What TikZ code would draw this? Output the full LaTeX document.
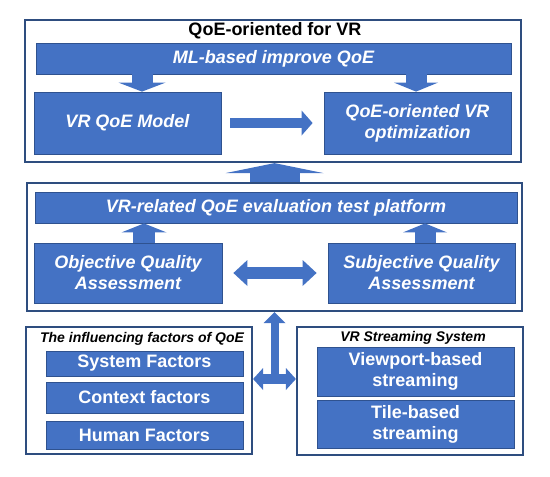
\documentclass[tikz,border=0pt]{standalone}
\usepackage{fontspec}
\setmainfont{Liberation Sans}
\usetikzlibrary{arrows.meta}
\definecolor{boxblue}{HTML}{4472C4}
\definecolor{edgeblue}{HTML}{2F528F}
\definecolor{frameblue}{HTML}{2E4D7F}
\tikzset{
  frame/.style={draw=frameblue,line width=2.2pt,fill=white,inner sep=0pt},
  title/.style={font=\bfseries\fontsize{18}{21}\selectfont},
  subtitle/.style={font=\bfseries\itshape\fontsize{14}{17}\selectfont},
  bluebox/.style={draw=edgeblue,line width=0.8pt,fill=boxblue,text=white,inner sep=0pt,
    align=center,font=\bfseries\itshape\fontsize{18}{21}\selectfont},
  factorbox/.style={bluebox,minimum width=197pt,font=\bfseries\fontsize{18}{21}\selectfont},
  blockarrow/.style n args={3}{draw=boxblue,line width=#1,-{Triangle[width=#2,length=#3,line width=0pt]}},
  dblarrow/.style n args={3}{draw=boxblue,line width=#1,
    {Triangle[width=#2,length=#3,line width=0pt]}-{Triangle[width=#2,length=#3,line width=0pt]}}
}
\begin{document}
\begin{tikzpicture}[x=1pt,y=-1pt]
\useasboundingbox (0,0) rectangle (550,477);
% FRAMES
\node[frame,minimum width=496pt,minimum height=142pt] (qoe) at (273,91) {};
\node[frame,minimum width=495pt,minimum height=128pt] (eval) at (274.5,247) {};
\node[frame,minimum width=226pt,minimum height=127pt] (factors) at (139,390.5) {};
\node[frame,minimum width=226pt,minimum height=128pt] (stream) at (410,391) {};
% TITLES
\node[title] (qoetitle) at (275,31) {QoE-oriented for VR};
\node[subtitle] (facttitle) at (142,339) {The influencing factors of QoE};
\node[subtitle] (streamtitle) at (413,338) {VR Streaming System};
% BOXES
\node[bluebox,minimum width=475pt,minimum height=31pt] (ml) at (273.5,58.5) {ML-based improve QoE};
\node[bluebox,minimum width=187pt,minimum height=62pt] (model) at (127.5,123) {VR QoE Model};
\node[bluebox,minimum width=187pt,minimum height=62pt] (opt) at (417.5,123) {QoE-oriented VR\\optimization};

\node[bluebox,minimum width=482pt,minimum height=31pt] (platform) at (276,207.5) {VR-related QoE evaluation test platform};
\node[bluebox,minimum width=188pt,minimum height=60pt] (obj) at (128,273) {Objective Quality\\Assessment};
\node[bluebox,minimum width=187pt,minimum height=60pt] (subj) at (421.5,273) {Subjective Quality\\Assessment};

\node[factorbox,minimum height=25pt] (system) at (144.5,363.5) {System Factors};
\node[factorbox,minimum height=31pt] (context) at (144.5,397.5) {Context factors};
\node[factorbox,minimum height=28pt] (human) at (144.5,435) {Human Factors};

\node[factorbox,minimum height=49pt] (viewport) at (415.5,371.5) {Viewport-based\\streaming};
\node[factorbox,minimum height=48pt] (tile) at (415.5,424) {Tile-based\\streaming};
% ARROWS
\coordinate (mlL) at (142,0);
\coordinate (mlR) at (416,0);
\coordinate (objU) at (144,0);
\coordinate (subjU) at (425,0);
\coordinate (tee) at (274.5,379);

\draw[blockarrow={21pt}{47pt}{9pt}] (ml.south -| mlL) -- (model.north -| mlL);
\draw[blockarrow={21pt}{44pt}{9pt}] (ml.south -| mlR) -- (opt.north -| mlR);
\draw[blockarrow={10pt}{25pt}{11pt}] ([xshift=9pt]model.east) -- ([xshift=-11pt]opt.west);
\draw[blockarrow={50pt}{98pt}{10pt}] (eval.north) -- (eval.north |- qoe.south);

\draw[blockarrow={22pt}{45pt}{9pt}] (obj.north -| objU) -- (platform.south -| objU);
\draw[blockarrow={21pt}{44pt}{9pt}] (subj.north -| subjU) -- (platform.south -| subjU);
\draw[dblarrow={12pt}{26pt}{14pt}] ([xshift=11pt]obj.east) -- ([xshift=-11pt]subj.west);

\draw[dblarrow={10pt}{22pt}{10pt}] (factors.east |- tee) -- (stream.west |- tee);
\draw[blockarrow={8pt}{22pt}{11pt}] (tee) -- (tee |- eval.south);
\end{tikzpicture}
\end{document}
